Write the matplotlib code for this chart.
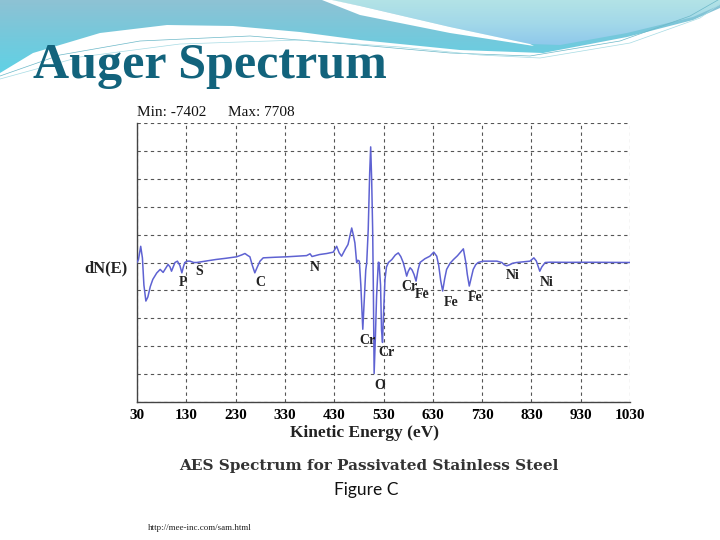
import numpy as np
import matplotlib.pyplot as plt
from matplotlib.patches import Polygon
from matplotlib.colors import LinearSegmentedColormap

# AES spectrum (kinetic energy in eV, dN(E) counts)
energy = [30, 33, 37.5, 41, 44, 48, 52, 57, 62, 70, 77, 83, 88, 93, 97, 100, 104, 107, 112,
          117, 121, 124, 127, 132, 137.5, 145, 151, 170, 190, 210, 232, 242, 249, 254, 259,
          264, 269, 274, 279.5, 286, 310, 334, 355, 374, 381, 385, 400, 415, 428, 435, 440,
          445, 452, 458, 462, 465.5, 469, 472, 475.5, 478, 481, 484, 488, 491, 494, 496, 499,
          502, 504, 506, 508, 509.5, 511, 513.5, 516, 519.5, 521, 524, 526, 528, 530, 533,
          536, 540, 547, 554, 560, 565, 570, 574, 577, 580, 584, 588, 592, 596, 600, 604,
          614, 624, 632, 638, 642, 646, 650, 654, 658, 665, 672, 680, 685, 692, 697, 700,
          704, 708, 712, 717, 722, 732, 760, 770, 775, 780, 786, 792, 800, 815, 827, 835,
          840, 844, 847, 851, 858, 868, 900, 950, 1000, 1030]
dn = [0, 200, 1080, 300, -1500, -2570, -2300, -1600, -1130, -700, -460, -660, -400, -130,
      -300, -580, -250, 0, 90, -200, -690, -300, 0, 90, 90, 0, 0, 100, 200, 280, 380, 500,
      600, 480, 380, -200, -690, -300, 90, 310, 350, 380, 420, 460, 580, 400, 530, 600, 690,
      1080, 650, 420, 860, 1200, 1800, 2300, 1800, 1300, 0, 150, 90, -1500, -4450, -2500,
      -500, 0, 2190, 6000, 7708, 5500, 2190, -2000, -7402, -5000, -2240, 20, 0, -1500,
      -4500, -5330, -3500, -1130, -300, 0, 200, 500, 640, 400, 0, -500, -910, -600, -350,
      -500, -800, -1240, -500, 0, 250, 420, 690, 420, -200, -1200, -1900, -1100, -460, -50,
      200, 450, 640, 910, 0, -800, -1570, -1000, -460, -150, 0, 90, 90, 0, -150, -220, -150,
      -50, 0, 50, 90, 310, 100, -300, -580, -300, 0, 20, 10, 15, 10, 0]

xtick_vals = [30, 130, 230, 330, 430, 530, 630, 730, 830, 930, 1030]

peak_names = ['P', 'S', 'C', 'N', 'Cr', 'O', 'Cr', 'Cr', 'Fe', 'Fe', 'Fe', 'Ni', 'Ni']
peak_x = [123, 156, 279.5, 391, 498.5, 523, 537, 582, 608, 667, 715.6, 793, 862]
peak_y = [-1330, -600, -1330, -330, -5180, -8230, -5980, -1590, -2120, -2660, -2320, -860, -1330]

serif = 'Liberation Serif'

fig = plt.figure(figsize=(7.2, 5.4), dpi=100)

# background axes in pixel coordinates for the slide header and texts
bg = fig.add_axes([0, 0, 1, 1])
bg.set_xlim(0, 720)
bg.set_ylim(540, 0)
bg.axis('off')

vgrad = np.linspace(0, 1, 256).reshape(-1, 1)
cmap_c = LinearSegmentedColormap.from_list('c', ['#8ec2d4', '#74c9dc', '#5fd2e6'])
cmap_b = LinearSegmentedColormap.from_list('b', ['#b3e3e6', '#a2d8e9', '#8cc6ec'])

# cyan wave
poly_c = Polygon([(0, 0), (720, 0), (720, 8), (693, 20), (627, 37), (543, 53), (460, 50),
                  (360, 40), (300, 32), (233, 26), (167, 25), (100, 33), (33, 53), (0, 73)],
                 closed=True, fc='none', ec='none')
# light blue wave at the top right
poly_b = Polygon([(330, 0), (720, 0), (720, 5), (693, 17), (627, 33), (560, 45), (530, 44),
                  (450, 27), (360, 6)], closed=True, fc='none', ec='none')
for poly, cm, ext in [(poly_c, cmap_c, [0, 720, 75, 0]), (poly_b, cmap_b, [0, 720, 48, 0])]:
    bg.add_patch(poly)
    im = bg.imshow(vgrad, extent=ext, cmap=cm, aspect='auto', zorder=1)
    im.set_clip_path(poly)
# white streak between them
bg.add_patch(Polygon([(322, 0), (332, 0), (360, 6), (450, 27), (530, 44), (534, 46),
                      (450, 33), (360, 15)], closed=True, fc='white', ec='none', zorder=2))
bg.set_xlim(0, 720)
bg.set_ylim(540, 0)

# thin swoosh lines
bg.plot([0, 60, 140, 250, 360, 450, 530, 620, 690, 718],
        [76, 55, 41, 36, 45, 53, 56, 41, 16, 0], color='#6cb8c8', lw=0.5, zorder=3)
bg.plot([0, 80, 180, 300, 400, 480, 540, 630, 700, 720],
        [79, 57, 44, 40, 47, 55, 58, 43, 18, 4], color='#a6dbe4', lw=0.5, zorder=3)

bg.text(33, 78, 'Auger Spectrum', fontsize=36, fontweight='bold', family=serif,
        color='#12637c', va='baseline', ha='left', zorder=4)

# main chart
ax = fig.add_axes([137 / 720, 1 - 402 / 540, 493 / 720, 279 / 540])
ax.plot(energy, dn, color='#5e62d2', lw=1.1, zorder=3)
ax.set_xlim(30, 1030)
ax.set_ylim(-9300, 9300)
ax.set_xticks(xtick_vals)
ax.set_yticks(np.linspace(-9300, 9300, 11))
ax.set_yticklabels([])
ax.set_xticklabels([str(v) for v in xtick_vals], fontsize=11, fontweight='bold', family=serif)
ax.tick_params(length=0, pad=5)
ax.grid(True, ls=(0, (3, 3)), color='#555555', lw=0.8)
ax.set_axisbelow(True)
for s in ['top', 'right']:
    ax.spines[s].set_visible(False)
for s in ['left', 'bottom']:
    ax.spines[s].set_color('#444444')
    ax.spines[s].set_linewidth(1.0)
ax.patch.set_alpha(0)

for name, px, py in zip(peak_names, peak_x, peak_y):
    ax.text(px, py, name, fontsize=10, fontweight='bold', family=serif,
            color='#222222', ha='center', va='center', zorder=4)

bg.text(137, 113, 'Min: -7402', fontsize=11, family=serif, color='#111111', va='center')
bg.text(228, 113, 'Max: 7708', fontsize=11, family=serif, color='#111111', va='center')
bg.text(128, 268, 'dN(E)', fontsize=12, fontweight='bold', family=serif,
        color='#222222', ha='right', va='center')
bg.text(365, 433, 'Kinetic Energy (eV)', fontsize=12.5, fontweight='bold', family=serif,
        color='#222222', ha='center', va='center')
bg.text(369, 466, 'AES Spectrum for Passivated Stainless Steel', fontsize=11,
        fontweight='bold', family='DejaVu Serif', color='#333333', ha='center', va='center')
bg.text(366, 490, 'Figure C', fontsize=12.5, family='Lato', color='#111111',
        ha='center', va='center')
bg.text(148, 528, 'http://mee-inc.com/sam.html', fontsize=6.5, family=serif,
        color='#222222', ha='left', va='center')

fig.savefig('out.png', dpi=100)
